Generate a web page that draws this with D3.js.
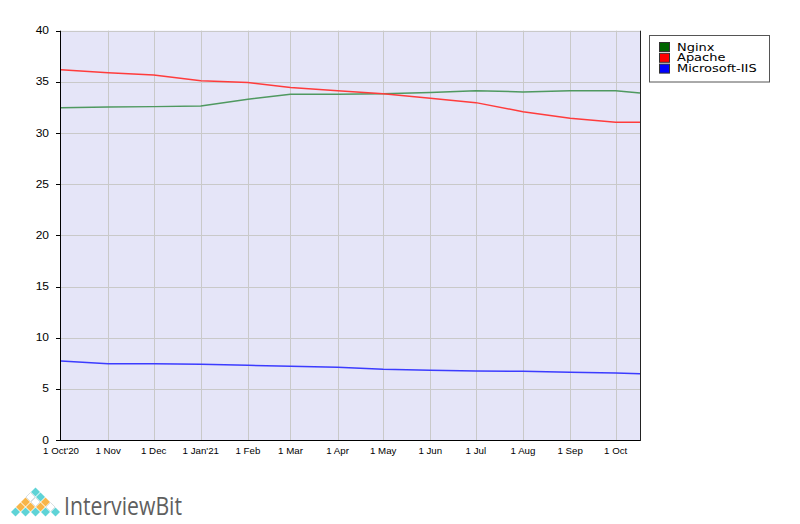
<!DOCTYPE html>
<html>
<head>
<meta charset="utf-8">
<script src="https://cdn.jsdelivr.net/npm/d3@7"></script>
<style>
body { margin: 0; background: #fff; }
</style>
</head>
<body>
<svg id="chart" width="800" height="524"></svg>
<script>
// monthly market share (%), last point is the mid-October reading
const dates = ["2020-10-01", "2020-11-01", "2020-12-01", "2021-01-01", "2021-02-01", "2021-03-01",
    "2021-04-01", "2021-05-01", "2021-06-01", "2021-07-01", "2021-08-01", "2021-09-01",
    "2021-10-01", "2021-10-17"];
const nginx  = [32.48, 32.55, 32.58, 32.65, 33.30, 33.79, 33.79, 33.85, 33.95, 34.12, 34.02, 34.12, 34.12, 33.92];
const apache = [36.19, 35.90, 35.68, 35.12, 34.93, 34.44, 34.12, 33.85, 33.40, 32.97, 32.09, 31.45, 31.06, 31.06];
const iis    = [7.72, 7.46, 7.46, 7.40, 7.30, 7.20, 7.11, 6.91, 6.81, 6.74, 6.72, 6.62, 6.55, 6.48];

const series_names = ["Nginx", "Apache", "Microsoft-IIS"];
const tick_dates = ["2020-10-01", "2020-11-01", "2020-12-01", "2021-01-01", "2021-02-01", "2021-03-01",
    "2021-04-01", "2021-05-01", "2021-06-01", "2021-07-01", "2021-08-01", "2021-09-01", "2021-10-01"];
const tick_labels = ["1 Oct'20", "1 Nov", "1 Dec", "1 Jan'21", "1 Feb", "1 Mar", "1 Apr",
    "1 May", "1 Jun", "1 Jul", "1 Aug", "1 Sep", "1 Oct"];
const y_ticks = [0, 5, 10, 15, 20, 25, 30, 35, 40];

const line_colors = ["#4f9960", "#ff3c3c", "#3c3cff"];
const swatch_colors = ["#006400", "#ff0000", "#0000ff"];

const parse = d3.utcParse("%Y-%m-%d");
const plot = {left: 61, right: 640, top: 30.7, bottom: 440};
const stretch = 1.2;   // the labels in the picture are a bit wide

const svg = d3.select("#chart");

const x = d3.scaleUtc()
    .domain([parse("2020-10-01"), parse("2021-10-17")])
    .range([plot.left, plot.right]);
const y = d3.scaleLinear()
    .domain([0, 40])
    .range([plot.bottom, plot.top]);

// background
svg.append("rect")
    .attr("x", plot.left).attr("y", plot.top)
    .attr("width", plot.right - plot.left).attr("height", plot.bottom - plot.top)
    .attr("fill", "#e5e5f8");

// grid
svg.append("g").selectAll("line")
    .data(y_ticks.filter(d => d > 0))
    .enter().append("line")
        .attr("x1", plot.left).attr("x2", plot.right)
        .attr("y1", d => Math.round(y(d)) + 0.5).attr("y2", d => Math.round(y(d)) + 0.5)
        .attr("stroke", "#c9c9c9");

svg.append("g").selectAll("line")
    .data(tick_dates.slice(1))
    .enter().append("line")
        .attr("x1", d => Math.round(x(parse(d))) + 0.5).attr("x2", d => Math.round(x(parse(d))) + 0.5)
        .attr("y1", plot.top).attr("y2", plot.bottom)
        .attr("stroke", "#c9c9c9");

// series
const series = [nginx, apache, iis];
const line = d3.line()
    .x((d, i) => x(parse(dates[i])))
    .y(d => y(d));

svg.append("g").selectAll("path")
    .data(series)
    .enter().append("path")
        .attr("d", line)
        .attr("fill", "none")
        .attr("stroke", (d, i) => line_colors[i])
        .attr("stroke-width", 1.5);

// frame
svg.append("line")
    .attr("x1", plot.left - 0.5).attr("x2", plot.left - 0.5)
    .attr("y1", plot.top).attr("y2", plot.bottom + 1)
    .attr("stroke", "#000");
svg.append("line")
    .attr("x1", plot.left - 1).attr("x2", plot.right + 1)
    .attr("y1", plot.bottom + 0.5).attr("y2", plot.bottom + 0.5)
    .attr("stroke", "#000");
svg.append("line")
    .attr("x1", plot.right + 0.5).attr("x2", plot.right + 0.5)
    .attr("y1", plot.top).attr("y2", plot.bottom + 1)
    .attr("stroke", "#222");

// y axis ticks and labels
const yg = svg.append("g");
yg.selectAll("line")
    .data(y_ticks)
    .enter().append("line")
        .attr("x1", plot.left - 5).attr("x2", plot.left)
        .attr("y1", d => Math.round(y(d)) + 0.5).attr("y2", d => Math.round(y(d)) + 0.5)
        .attr("stroke", "#000");
yg.selectAll("text")
    .data(y_ticks)
    .enter().append("text")
        .attr("transform", d => `translate(49, ${y(d) + 3.5}) scale(${stretch}, 1)`)
        .attr("text-anchor", "end")
        .style("font-family", "'Liberation Sans', Arial, sans-serif")
        .style("font-size", "10px")
        .attr("fill", "#000")
        .text(d => d);

// x labels
svg.append("g").selectAll("text")
    .data(tick_dates)
    .enter().append("text")
        .attr("transform", (d, i) => `translate(${x(parse(d))}, 454) scale(1.08, 1)`)
        .attr("text-anchor", "middle")
        .style("font-family", "'Liberation Sans', Arial, sans-serif")
        .style("font-size", "9px")
        .attr("fill", "#000")
        .text((d, i) => tick_labels[i]);

// legend
const legend = svg.append("g");
legend.append("rect")
    .attr("x", 649.5).attr("y", 35.5)
    .attr("width", 120).attr("height", 46.5)
    .attr("fill", "#fff")
    .attr("stroke", "#555");

const items = legend.selectAll(".legend_item")
    .data(series_names)
    .enter().append("g")
        .attr("class", "legend_item")
        .attr("transform", (d, i) => `translate(659, ${42 + i * 10.8})`);
items.append("rect")
    .attr("x", 0.5).attr("y", 0.5)
    .attr("width", 10).attr("height", 9)
    .attr("fill", (d, i) => swatch_colors[i])
    .attr("stroke", "#333");
items.append("text")
    .attr("transform", `translate(18, 8.5) scale(1.3, 1)`)
    .style("font-family", "'DejaVu Sans', Verdana, sans-serif")
    .style("font-size", "10px")
    .attr("fill", "#000")
    .text(d => d);

// InterviewBit mark
const logo_rows = [
    ["c"],
    ["w", "c"],
    ["o", "w", "o"],
    ["o", "o", "o", "w"],
    ["c", "c", "c", "c", "c"]
];
const logo_fill = {c: "#5fd3d6", o: "#f7b54a", w: "#ffffff"};
const logo = svg.append("g").attr("transform", "translate(35.5, 492)");
logo_rows.forEach((row, r) => {
    logo.selectAll(".row" + r)
        .data(row)
        .enter().append("path")
            .attr("class", "row" + r)
            .attr("d", (d, i) => {
                const cx = (i - r / 2) * 10, cy = r * 5;
                return `M${cx},${cy - 4.5}L${cx + 4.5},${cy}L${cx},${cy + 4.5}L${cx - 4.5},${cy}Z`;
            })
            .attr("fill", d => logo_fill[d])
            .attr("stroke", d => d === "w" ? "#cfd8da" : "none")
            .attr("stroke-width", 0.8);
});
svg.append("text")
    .attr("x", 64).attr("y", 515)
    .attr("textLength", 118)
    .attr("lengthAdjust", "spacingAndGlyphs")
    .style("font-family", "'Open Sans', 'Noto Sans', sans-serif")
    .style("font-size", "25px")
    .attr("fill", "#5f5f5f")
    .text("InterviewBit");
</script>
</body>
</html>
